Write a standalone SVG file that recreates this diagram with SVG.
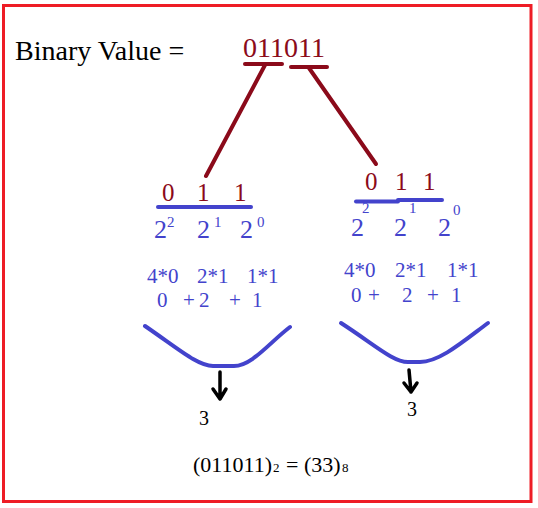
<svg xmlns="http://www.w3.org/2000/svg" width="538" height="508" viewBox="0 0 538 508" font-family="'Liberation Serif', 'Times New Roman', 'DejaVu Serif', serif">
<style>
text{font-family:"Liberation Serif","Times New Roman","DejaVu Serif",serif;}
.red{fill:#8b0a1a;}
.blue{fill:#4343cc;}
.blk{fill:#000;}
.bl{stroke:#4343cc;stroke-width:4;fill:none;stroke-linecap:round;}
.rl{stroke:#8b0a1a;stroke-width:4;fill:none;stroke-linecap:round;}
.ar{stroke:#000;stroke-width:3.5;fill:none;stroke-linecap:round;stroke-linejoin:round;}
</style>
<rect x="3.5" y="5.5" width="527.5" height="496" fill="#fff" stroke="#ee1c25" stroke-width="3"/>
<g id="title">
<text class="blk" x="15" y="60" font-size="28">Binary Value =</text>
<text class="red" x="243" y="57" font-size="28">011011</text>
</g>
<g id="connectors">
<line class="rl" x1="245" y1="64" x2="282" y2="64"/>
<line class="rl" x1="291" y1="67" x2="327" y2="67"/>
<line class="rl" x1="265" y1="65" x2="206" y2="176"/>
<line class="rl" x1="309" y1="68" x2="376" y2="164"/>
<path class="ar" d="M220,372 V399 M213,389 L220,399 L226,389"/>
<path class="ar" d="M409,370 L411,392 M404,383 L411,392 L417,383"/>
</g>
<g id="left">
<text class="red" x="162" y="201" font-size="25">0</text>
<text class="red" x="197" y="201" font-size="25">1</text>
<text class="red" x="234" y="201" font-size="25">1</text>
<line class="bl" x1="158" y1="207" x2="251" y2="207"/>
<text class="blue" x="154" y="238" font-size="26">2</text>
<text class="blue" x="167" y="227" font-size="15">2</text>
<text class="blue" x="197" y="238" font-size="26">2</text>
<text class="blue" x="214" y="227" font-size="15">1</text>
<text class="blue" x="240" y="238" font-size="26">2</text>
<text class="blue" x="257" y="227" font-size="15">0</text>
<text class="blue" x="147" y="283" font-size="21">4*0</text>
<text class="blue" x="197" y="283" font-size="21">2*1</text>
<text class="blue" x="247" y="283" font-size="21">1*1</text>
<text class="blue" x="157" y="307" font-size="21">0</text>
<text class="blue" x="183" y="307" font-size="21">+</text>
<text class="blue" x="199" y="307" font-size="21">2</text>
<text class="blue" x="229" y="307" font-size="21">+</text>
<text class="blue" x="252" y="307" font-size="21">1</text>
<path class="bl" d="M145,326 C180,350 198,366 213,366 H234 C252,366 270,342 290,327"/>
<text class="blk" x="199" y="425" font-size="20">3</text>
</g>
<g id="right">
<text class="red" x="365" y="190" font-size="25">0</text>
<text class="red" x="395" y="190" font-size="25">1</text>
<text class="red" x="423" y="190" font-size="25">1</text>
<line class="bl" x1="356" y1="201.5" x2="398" y2="201.5"/>
<line class="bl" x1="398" y1="200" x2="442" y2="200"/>
<text class="blue" x="351" y="236" font-size="26">2</text>
<text class="blue" x="362" y="213" font-size="15">2</text>
<text class="blue" x="394" y="236" font-size="26">2</text>
<text class="blue" x="409" y="213" font-size="15">1</text>
<text class="blue" x="438" y="236" font-size="26">2</text>
<text class="blue" x="453" y="215" font-size="15">0</text>
<text class="blue" x="344" y="277" font-size="21">4*0</text>
<text class="blue" x="395" y="277" font-size="21">2*1</text>
<text class="blue" x="447" y="277" font-size="21">1*1</text>
<text class="blue" x="351" y="302" font-size="21">0</text>
<text class="blue" x="368" y="302" font-size="21">+</text>
<text class="blue" x="402" y="302" font-size="21">2</text>
<text class="blue" x="427" y="302" font-size="21">+</text>
<text class="blue" x="451" y="302" font-size="21">1</text>
<path class="bl" d="M341,323 C375,345 393,362 408,362 H420 C440,362 465,340 488,323"/>
<text class="blk" x="407" y="416" font-size="20">3</text>
</g>
<g id="result">
<text class="blk" y="472" font-size="22"><tspan x="193">(011011)</tspan><tspan x="273" font-size="13">2</tspan><tspan x="286">=</tspan><tspan x="304">(33)</tspan><tspan x="342" font-size="13">8</tspan></text>
</g>
</svg>
